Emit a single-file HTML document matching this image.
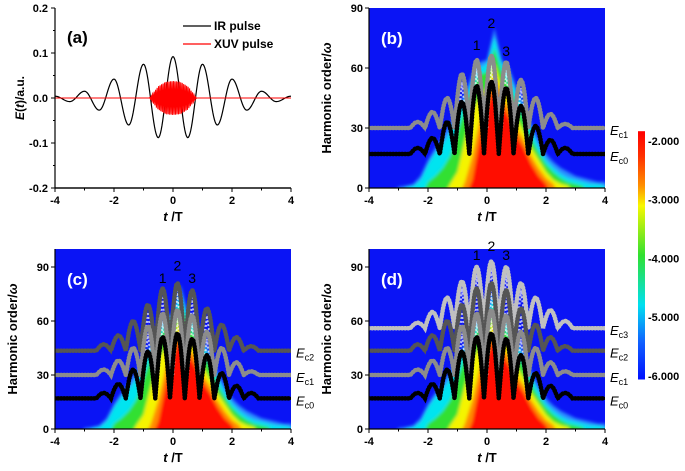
<!DOCTYPE html>
<html><head><meta charset="utf-8">
<style>
body{margin:0;background:#fff;}
svg{display:block;font-family:"Liberation Sans",Arial,sans-serif;}
.tk{font-size:11px;font-weight:bold;fill:#000;}
</style></head>
<body>
<svg id="fig" width="685" height="471" viewBox="0 0 685 471">
<defs>
<filter id="blur" x="-5%" y="-5%" width="110%" height="110%"><feGaussianBlur stdDeviation="1.6"/></filter>
<linearGradient id="cbar" x1="0" y1="0" x2="0" y2="1">
<stop offset="0" stop-color="#ff0000"/><stop offset="0.1" stop-color="#ff3000"/>
<stop offset="0.22" stop-color="#ff9000"/><stop offset="0.3" stop-color="#f8f800"/>
<stop offset="0.5" stop-color="#30e030"/><stop offset="0.7" stop-color="#00e0f0"/>
<stop offset="0.85" stop-color="#1060ff"/><stop offset="1" stop-color="#0010ff"/>
</linearGradient>
</defs>
</svg>
<script>
// ---- data ----
const irT = [-4,-3.5,-3,-2.5,-2,-1.5,-1,-0.5,0,0.5,1,1.5,2,2.5,3,3.5,4];
const irV = [0.004,-0.008,0.015,-0.027,0.042,-0.06,0.075,-0.088,0.092,-0.088,0.075,-0.06,0.042,-0.027,0.015,-0.008,0.004];
const xuvT = [-0.8,-0.5,-0.25,0,0.25,0.5,0.8];
const xuvA = [0,0.026,0.036,0.038,0.036,0.026,0];
const xuvCyclesPerT = 20;
const heatT = [-4,-3.75,-3.5,-3.25,-3,-2.75,-2.5,-2.25,-2,-1.75,-1.5,-1.25,-1,-0.75,-0.5,-0.25,0,0.25,0.5,0.75,1,1.25,1.5,1.75,2,2.25,2.5,2.75,3,3.25,3.5,3.75,4];
const hLight = [0,0,0,0,0.5,1,2,6,14,20,26,32,40,47,57,63,64,80,64,60,50,42,32,24,17,13,10,8,6,5,4,3,3];
const hCyan  = [0,0,0,0,0,0.5,1,4,12,18,22,28,36,44,54,60,62,76,62,57,47,39,29,21,14,10,7,5,4,3,2,2,1];
const hGreen = [0,0,0,0,0,0,0,0,3,6,10,16,28,40,50,57,58,70,58,52,42,35,25,18,12,8,5,3,2,1,0,0,0];
const hYellow= [0,0,0,0,0,0,0,0,0,0,0,2,8,24,38,46,50,62,50,45,35,28,20,14,8,4,2,1,0,0,0,0,0];
const hOrange= [0,0,0,0,0,0,0,0,0,0,0,0,0,3,16,34,44,56,46,40,30,24,16,10,5,2,0,0,0,0,0,0,0];
const hRed   = [0,0,0,0,0,0,0,0,0,0,0,0,0,0,4,24,40,52,42,35,26,20,12,6,2,0,0,0,0,0,0,0,0];
const humpT = [-2.35,-1.85,-1.35,-0.85,-0.35,0.15,0.65,1.15,1.65,2.15,2.65];
const ec0Peaks = [20,25,33,43,51,53,50,41,31,24,20];
const ec1Peaks = [33,38,45,57,64,66,63,54,45,37,32];
const ec2Peaks = [47,52,60,69,78,81,77,67,58,51,46];
const ec3Peaks = [59,65,73,82,90,93,90,81,73,66,60];
const ecBase = [17,30,43.5,56];
const xTicks = [-4,-2,0,2,4];
const aTicks = [-0.2,-0.1,0.0,0.1,0.2];
const aTickLbl = ["-0.2","-0.1","0.0","0.1","0.2"];
const cbVals = [-2,-3,-4,-5,-6];
const cbLbl = ["-2.000","-3.000","-4.000","-5.000","-6.000"];

const NS="http://www.w3.org/2000/svg";
const svg=document.getElementById('fig');
function el(tag,attrs,parent,txt){const e=document.createElementNS(NS,tag);for(const k in attrs)e.setAttribute(k,attrs[k]);if(txt!==undefined)e.textContent=txt;(parent||svg).appendChild(e);return e;}
function interp(ts,vs,t){if(t<=ts[0])return vs[0];for(let i=0;i<ts.length-1;i++){if(t<=ts[i+1]){const s=(t-ts[i])/(ts[i+1]-ts[i]);return vs[i]+(vs[i+1]-vs[i])*s;}}return vs[vs.length-1];}

// ---- panel (a) ----
const ax=t=>55+29.5*(t+4), ay=v=>98-v*450;
const gA=el('g',{});


let d='';
for(let i=0;i<irT.length-1;i++){const a=irV[i],b=irV[i+1];for(let k=0;k<=20;k++){const s=k/20;const t=irT[i]+s*(irT[i+1]-irT[i]);const v=a+(b-a)*(1-Math.cos(Math.PI*s))/2;d+=(d?'L':'M')+ax(t).toFixed(2)+' '+ay(v).toFixed(2);}}
const ir=el('path',{d:d,fill:'none',stroke:'#000','stroke-width':1.2},gA);


d='M'+ax(-4)+' '+ay(0);
for(let t=-4;t<=4.0001;t+=0.004){const A=interp(xuvT,xuvA,t);const v=A*Math.sin(2*Math.PI*xuvCyclesPerT*t);d+='L'+ax(t).toFixed(2)+' '+ay(v).toFixed(2);}
const xv=el('path',{d:d,fill:'none',stroke:'#ff0000','stroke-width':1},gA);


el('line',{x1:55,y1:8,x2:55,y2:188,stroke:'#000','stroke-width':1.2},gA);
el('line',{x1:55,y1:188,x2:291,y2:188,stroke:'#000','stroke-width':1.2},gA);
aTicks.forEach((v,i)=>{el('line',{x1:51,y1:ay(v),x2:55,y2:ay(v),stroke:'#000'},gA);const tl=el('text',{x:48,y:ay(v)+4,'text-anchor':'end',class:'tk'},gA,aTickLbl[i]);});
for(let v=-0.15;v<0.2;v+=0.1)el('line',{x1:53,y1:ay(v),x2:55,y2:ay(v),stroke:'#000'},gA);
const yl=el('text',{transform:'translate(24,98) rotate(-90)','text-anchor':'middle','font-size':'12px','font-weight':'bold'},gA);
yl.innerHTML='<tspan font-style="italic">E</tspan>(<tspan font-style="italic">t</tspan>)/a.u.';


const pa=el('text',{x:67,y:43,'font-size':'17px','font-weight':'bold'},gA,'(a)');


el('line',{x1:183,y1:26,x2:211,y2:26,stroke:'#000','stroke-width':1.2},gA);
const l1=el('text',{x:214,y:30,'font-size':'12px','font-weight':'bold'},gA,'IR pulse');


el('line',{x1:183,y1:44,x2:211,y2:44,stroke:'#f00','stroke-width':1.2},gA);
const l2=el('text',{x:214,y:48,'font-size':'12px','font-weight':'bold'},gA,'XUV pulse');



function xAxis(g,x0,yb){
  const xf=t=>x0+29.5*(t+4);
  el('line',{x1:x0,y1:yb,x2:x0+236,y2:yb,stroke:'#000','stroke-width':1.2},g);
  xTicks.forEach(t=>{el('line',{x1:xf(t),y1:yb,x2:xf(t),y2:yb+4,stroke:'#000'},g);const tl=el('text',{x:xf(t),y:yb+16,'text-anchor':'middle',class:'tk'},g,(t<0?'-':'')+Math.abs(t));});
  for(let t=-3;t<4;t+=2)el('line',{x1:xf(t),y1:yb,x2:xf(t),y2:yb+2.5,stroke:'#000'},g);
  const xt=el('text',{x:x0+118,y:yb+33,'text-anchor':'middle','font-size':'13px','font-weight':'bold'},g);
  xt.innerHTML='<tspan font-style="italic">t</tspan> /T';
  
  
}
xAxis(gA,55,188);

function panel(name,label,x0,yb,scale,top,yTicks,curves,lblNum){
  const g=el('g',{});
  
  
  const xf=t=>x0+29.5*(t+4), yf=h=>yb-h*scale;
  const yh=h=>h<=0?yb+10:yf(h);
  const ytop=yf(top);
  const cid='clip'+label.replace(/[()]/g,'');
  const cp=el('clipPath',{id:cid},g);el('rect',{x:x0,y:ytop,width:236,height:yb-ytop},cp);
  const hm=el('g',{'clip-path':'url(#'+cid+')'},g);
  
  
  el('rect',{x:x0,y:ytop,width:236,height:yb-ytop,fill:'#0a14f5'},hm);
  const bl=el('g',{filter:'url(#blur)'},hm);
  [[hLight,'#2a90ff'],[hCyan,'#00e4f0'],[hGreen,'#30e030'],[hYellow,'#f4f400'],[hOrange,'#ff8a00'],[hRed,'#ff1000']].forEach(([arr,c])=>{
    let p='M'+(xf(-4)-10)+' '+(yb+12);heatT.forEach((t,i)=>{p+='L'+xf(t).toFixed(1)+' '+yh(arr[i]).toFixed(1);});p+='L'+(xf(4)+10)+' '+(yb+12)+'Z';
    const e=el('path',{d:p,fill:c},bl);
    
    
  });
  curves.slice().reverse().forEach(([peaks,base,col,nm])=>{
    let p='';
    for(let t=-4;t<=4.0001;t+=0.01){let h=base;humpT.forEach((pt,i)=>{if(Math.abs(t-pt)<0.25){h=base+(peaks[i]-base)*Math.cos(Math.PI*(t-pt)/0.5);}});p+=(p?'L':'M')+xf(t).toFixed(1)+' '+yf(h).toFixed(1);}
    if(col!=='#000'){
      humpT.forEach((pt,i)=>{if(Math.abs(pt)<1.3){const s=el('path',{d:'M'+xf(pt-0.15)+' '+yf(base)+'L'+xf(pt)+' '+yf(peaks[i]-4)+'L'+xf(pt+0.2)+' '+yf(base),fill:'none',stroke:'#fff','stroke-width':2.5,'stroke-dasharray':'2 2',opacity:0.7},hm);}});
    }
    const c=el('path',{d:p,fill:'none',stroke:col,'stroke-width':4.5,'stroke-linecap':'round','stroke-dasharray':'0.5 2.5'},hm);
    
    
    el('path',{d:p,fill:'none',stroke:col,'stroke-width':3},hm);
    const lt=el('text',{x:x0+241,y:yf(base)+7,'font-size':'13px','font-style':'italic'},g);
    lt.innerHTML='E<tspan font-size="9px" font-style="normal" dy="3">'+nm.slice(1)+'</tspan>';
    
    
  });
  [-0.35,0.15,0.65].forEach((t,i)=>{const n=el('text',{x:xf(t),y:yf(lblNum[i]),'text-anchor':'middle','font-size':'14px'},g,String(i+1));});
  el('line',{x1:x0,y1:ytop,x2:x0,y2:yb,stroke:'#000','stroke-width':1.2},g);
  yTicks.forEach(v=>{el('line',{x1:x0-4,y1:yf(v),x2:x0,y2:yf(v),stroke:'#000'},g);const tl=el('text',{x:x0-6,y:yf(v)+4,'text-anchor':'end',class:'tk'},g,String(v));});
  xAxis(g,x0,yb);
  const yt=el('text',{transform:'translate('+(x0-38)+','+((ytop+yb)/2)+') rotate(-90)','text-anchor':'middle','font-size':'13px','font-weight':'bold'},g);
  yt.innerHTML='Harmonic order/<tspan font-style="italic">ω</tspan>';
  
  
  const pl=el('text',{x:x0+12,y:ytop+36,'font-size':'17px','font-weight':'bold',fill:'#fff'},g,label);
  
  
}
panel('panel-b','(b)',369,188,2,90,[0,30,60,90],[[ec0Peaks,ecBase[0],'#000','Ec0'],[ec1Peaks,ecBase[1],'#8c8c8c','Ec1']],[69,80,66]);
panel('panel-c','(c)',55,429,1.8,100,[0,30,60,90],[[ec0Peaks,ecBase[0],'#000','Ec0'],[ec1Peaks,ecBase[1],'#8c8c8c','Ec1'],[ec2Peaks,ecBase[2],'#555','Ec2']],[81,88,81]);
panel('panel-d','(d)',369,429,1.8,100,[0,30,60,90],[[ec0Peaks,ecBase[0],'#000','Ec0'],[ec1Peaks,ecBase[1],'#8c8c8c','Ec1'],[ec2Peaks,ecBase[2],'#555','Ec2'],[ec3Peaks,ecBase[3],'#c0c0c0','Ec3']],[94,99,94]);

const cb=el('g',{});


const cy=v=>140+(-2-v)*58.7;
el('rect',{x:638,y:cy(-1.85),width:7,height:cy(-6.08)-cy(-1.85),fill:'url(#cbar)'},cb);
cbVals.forEach((v,i)=>{const t=el('text',{x:648,y:cy(v)+5,class:'tk','font-size':'12px'},cb,cbLbl[i]);});
</script>
</body></html>
